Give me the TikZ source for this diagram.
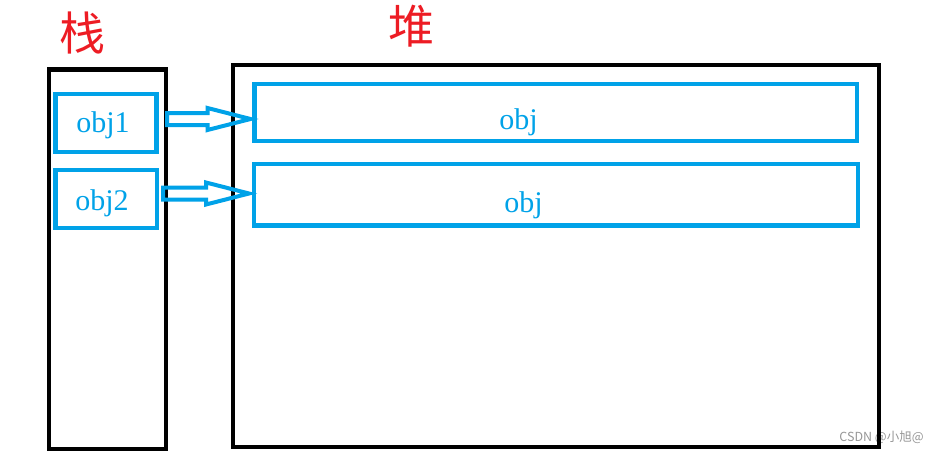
\documentclass[tikz,border=0pt]{standalone}
\usepackage{fontspec}
\setmainfont{Liberation Serif}
\newfontfamily\cjk{Noto Sans CJK SC}
\usetikzlibrary{calc}
\definecolor{objblue}{RGB}{0,162,232}
\definecolor{titlered}{RGB}{237,28,36}
\definecolor{markgray}{RGB}{150,150,150}
\tikzset{
  memory/.style={draw=black,line width=4.5pt,outer sep=0pt,inner sep=0pt},
  objbox/.style={draw=objblue,line width=4.5pt,outer sep=0pt,inner sep=0pt},
  objtext/.style={text=objblue,font=\fontsize{30}{30}\selectfont},
  title/.style={text=titlered,font=\cjk\fontsize{46}{46}\selectfont},
  hollow/.style={draw=objblue,line width=4pt,line join=miter}
}
\newcommand\hollowarrow[2]{%
  \draw[hollow] let \p1=(#1), \p2=(#2) in
    (\x1,\y1+6pt) -- (\x2-43pt,\y1+6pt) -- (\x2-43pt,\y1+11pt) -- (\x2,\y1)
    -- (\x2-43pt,\y1-11pt) -- (\x2-43pt,\y1-6pt) -- (\x1,\y1-6pt) -- cycle;}
\begin{document}
\begin{tikzpicture}[x=1pt,y=-1pt]
  \useasboundingbox (0,0) rectangle (940,453);
  \node[text=markgray,font=\cjk\fontsize{12.5}{12.5}\selectfont] (mark) at (881.5,437) {CSDN @小旭@};
  \node[title] (stacktitle) at (82,33) {栈};
  \node[title] (heaptitle) at (411,26) {堆};
  \node[memory,minimum width=117pt,minimum height=379.5pt] (stack) at (107.5,259) {};
  \node[memory,minimum width=646pt,minimum height=382pt] (heap) at (556,256) {};
  \node[objbox,minimum width=101pt,minimum height=58pt] (s1) at (106,123) {};
  \node[objbox,minimum width=101.5pt,minimum height=58pt] (s2) at (106.25,199) {};
  \node[objbox,minimum width=602.5pt,minimum height=57pt] (h1) at (555.75,112.5) {};
  \node[objbox,minimum width=604pt,minimum height=61.5pt] (h2) at (556,194.75) {};
  \node[objtext] (t1) at (103,125) {obj1};
  \node[objtext] (t2) at (102,203) {obj2};
  \node[objtext] (t3) at (518.5,122) {obj};
  \node[objtext] (t4) at (523.5,205) {obj};
  \path (s1.east) ++(10.5,-4) coordinate (a1);
  \path (s2.east) ++(6,-5.5) coordinate (a2);
  \path (h1.west) ++(-4,0) coordinate (b1);
  \path (h2.west) ++(-5,0) coordinate (b2);
  \hollowarrow{a1}{b1}
  \hollowarrow{a2}{b2}
\end{tikzpicture}
\end{document}
